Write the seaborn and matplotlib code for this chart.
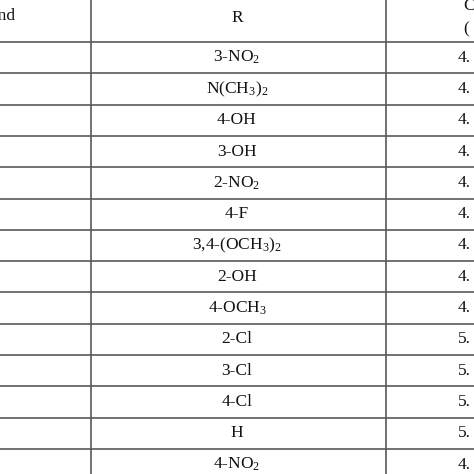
import matplotlib
matplotlib.use("Agg")
import matplotlib.pyplot as plt
import seaborn as sns

sns.set_theme(style="white")
plt.rcParams['font.family'] = ['Liberation Serif', 'DejaVu Serif']
plt.rcParams['mathtext.fontset'] = 'custom'
plt.rcParams['mathtext.rm'] = 'Liberation Serif'
plt.rcParams['mathtext.it'] = 'Liberation Serif:italic'

headers = ["Compound", "R", "C\n("]
substituents = ["3-NO$_2$", "N(CH$_3$)$_2$", "4-OH", "3-OH", "2-NO$_2$", "4-F",
                "3,4-(OCH$_3$)$_2$", "2-OH", "4-OCH$_3$", "2-Cl", "3-Cl", "4-Cl",
                "H", "4-NO$_2$"]
values = ["4.", "4.", "4.", "4.", "4.", "4.", "4.", "4.", "4.", "5.", "5.", "5.", "5.", "4."]

fig = plt.figure(figsize=(4.74, 4.74), dpi=100)
ax = fig.add_axes([0, 0, 1, 1])
ax.set_xlim(0, 474)
ax.set_ylim(474, 0)
ax.axis("off")

fs = 12.5
line_kw = dict(color="#5a5a5a", lw=1.2)
top, row_h = 42, 31.3
ax.axvline(91, **line_kw)
ax.axvline(386, **line_kw)
for k in range(len(substituents)):
    ax.axhline(top + row_h * k, **line_kw)

ax.text(15, 16, headers[0], ha="right", va="center", fontsize=fs, color="#111")
ax.text(237, 18, headers[1], ha="center", va="center", fontsize=fs, color="#111")
ax.text(463, 18, headers[2], ha="left", va="center", fontsize=fs, color="#111",
        linespacing=1.6)

for i, (r, v) in enumerate(zip(substituents, values)):
    y = top + row_h * (i + 0.5)
    ax.text(237, y, r, ha="center", va="center", fontsize=fs, color="#111")
    ax.text(458, y, v, ha="left", va="center", fontsize=fs, color="#111")

fig.savefig("out.png", dpi=100)
